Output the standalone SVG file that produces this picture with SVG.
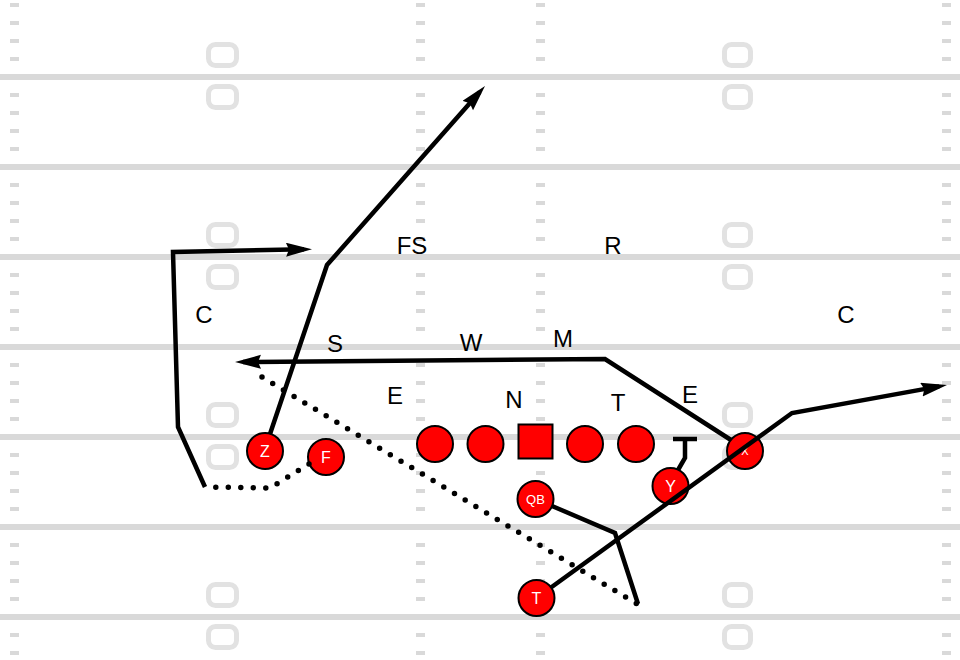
<svg xmlns="http://www.w3.org/2000/svg" xmlns:xlink="http://www.w3.org/1999/xlink" width="960" height="660" viewBox="0 0 960 660">
<style>
.yard{fill:#d9d9d9}
.hash{fill:#d9d9d9}
.num{fill:none;stroke:#e2e2e2;stroke-width:5}
.player{fill:#ff0000;stroke:#000;stroke-width:2}
.plabel{font-family:"Liberation Sans",Arial,sans-serif;fill:#fff;text-anchor:middle}
.dlabel{font-family:"Liberation Sans",Arial,sans-serif;font-size:24px;fill:#000;text-anchor:middle}
.route{fill:none;stroke:#000;stroke-width:4.5;stroke-linejoin:miter}
.dots{fill:none;stroke:#000;stroke-width:5.5;stroke-linecap:round;stroke-dasharray:0 12.5}
</style>
<defs>
<marker id="arrow" markerUnits="userSpaceOnUse" markerWidth="30" markerHeight="16" refX="18" refY="7" orient="auto">
<path d="M0,0 L26,7 L0,14 L3,7 z" fill="#000"/>
</marker>
<g id="hashrow">
<rect class="hash" x="10" y="0" width="9" height="4"/>
<rect class="hash" x="416" y="0" width="9" height="4"/>
<rect class="hash" x="536" y="0" width="9" height="4"/>
<rect class="hash" x="942" y="0" width="9" height="4"/>
</g>
<g id="nums">
<rect class="num" x="208.5" y="-32.5" width="28" height="21" rx="7"/>
<rect class="num" x="208.5" y="9.5" width="28" height="21" rx="7"/>
<rect class="num" x="724.5" y="-32.5" width="26" height="21" rx="7"/>
<rect class="num" x="724.5" y="9.5" width="26" height="21" rx="7"/>
</g>
</defs>
<rect width="960" height="660" fill="#fff"/>
<g id="field">
<rect class="yard" x="0" y="74" width="960" height="6"/>
<rect class="yard" x="0" y="164" width="960" height="6"/>
<rect class="yard" x="0" y="254" width="960" height="6"/>
<rect class="yard" x="0" y="344" width="960" height="6"/>
<rect class="yard" x="0" y="434" width="960" height="6"/>
<rect class="yard" x="0" y="524" width="960" height="6"/>
<rect class="yard" x="0" y="614" width="960" height="6"/>
<use xlink:href="#hashrow" y="3"/><use xlink:href="#hashrow" y="21"/><use xlink:href="#hashrow" y="39"/><use xlink:href="#hashrow" y="57"/>
<use xlink:href="#hashrow" y="93"/><use xlink:href="#hashrow" y="111"/><use xlink:href="#hashrow" y="129"/><use xlink:href="#hashrow" y="147"/>
<use xlink:href="#hashrow" y="183"/><use xlink:href="#hashrow" y="201"/><use xlink:href="#hashrow" y="219"/><use xlink:href="#hashrow" y="237"/>
<use xlink:href="#hashrow" y="273"/><use xlink:href="#hashrow" y="291"/><use xlink:href="#hashrow" y="309"/><use xlink:href="#hashrow" y="327"/>
<use xlink:href="#hashrow" y="363"/><use xlink:href="#hashrow" y="381"/><use xlink:href="#hashrow" y="399"/><use xlink:href="#hashrow" y="417"/>
<use xlink:href="#hashrow" y="453"/><use xlink:href="#hashrow" y="471"/><use xlink:href="#hashrow" y="489"/><use xlink:href="#hashrow" y="507"/>
<use xlink:href="#hashrow" y="543"/><use xlink:href="#hashrow" y="561"/><use xlink:href="#hashrow" y="579"/><use xlink:href="#hashrow" y="597"/>
<use xlink:href="#hashrow" y="633"/><use xlink:href="#hashrow" y="651"/>
<use xlink:href="#nums" y="77"/>
<use xlink:href="#nums" y="257"/>
<use xlink:href="#nums" y="437"/>
<use xlink:href="#nums" y="617"/>
</g>
<g id="defense">
<text class="dlabel" x="412" y="254">FS</text>
<text class="dlabel" x="613" y="254">R</text>
<text class="dlabel" x="204" y="323">C</text>
<text class="dlabel" x="846" y="323">C</text>
<text class="dlabel" x="335" y="352">S</text>
<text class="dlabel" x="471" y="351">W</text>
<text class="dlabel" x="563" y="347">M</text>
<text class="dlabel" x="395" y="404">E</text>
<text class="dlabel" x="514" y="408">N</text>
<text class="dlabel" x="618" y="411">T</text>
<text class="dlabel" x="690" y="403">E</text>
</g>
<g id="node-z"><circle class="player" cx="265" cy="451" r="18"/><text class="plabel" x="265" y="457" font-size="16">Z</text></g>
<g id="node-f"><circle class="player" cx="326" cy="457" r="18"/><text class="plabel" x="326" y="463" font-size="16">F</text></g>
<g id="node-lt"><circle class="player" cx="435" cy="444" r="18"/></g>
<g id="node-lg"><circle class="player" cx="485.5" cy="444" r="18"/></g>
<g id="node-c"><rect class="player" x="518.5" y="424.5" width="34" height="34"/></g>
<g id="node-rg"><circle class="player" cx="585" cy="444" r="18"/></g>
<g id="node-rt"><circle class="player" cx="636" cy="444" r="18"/></g>
<g id="node-qb"><circle class="player" cx="535.5" cy="499" r="18"/><text class="plabel" x="535.5" y="503.5" font-size="13">QB</text></g>
<g id="node-y"><circle class="player" cx="670.5" cy="486" r="18"/><text class="plabel" x="670.5" y="492" font-size="16">Y</text></g>
<g id="node-x"><circle class="player" cx="745" cy="451" r="18"/><text class="plabel" x="745" y="455" font-size="11">X</text></g>
<g id="node-t"><circle class="player" cx="536.5" cy="598" r="18"/><text class="plabel" x="536.5" y="604" font-size="16">T</text></g>
<g id="connectors">
<polyline class="route" points="270,434 327,265 479.7,92" marker-end="url(#arrow)"/>
<polyline class="route" points="205,487 178,427 173,252 304,249.3" marker-end="url(#arrow)"/>
<polyline class="dots" points="309,464 270,488 205,487"/>
<line class="dots" x1="262" y1="377" x2="637" y2="604"/>
<polyline class="route" points="731,440 605,359 243,362" marker-end="url(#arrow)"/>
<polyline class="route" points="551,587.5 792,413 939.1,386.4" marker-end="url(#arrow)"/>
<polyline class="route" points="552,506 615,533 638,604"/>
<polyline class="route" points="678,470 685,458 685,439"/>
<line class="route" x1="673" y1="439" x2="697" y2="439"/>
</g>
</svg>
